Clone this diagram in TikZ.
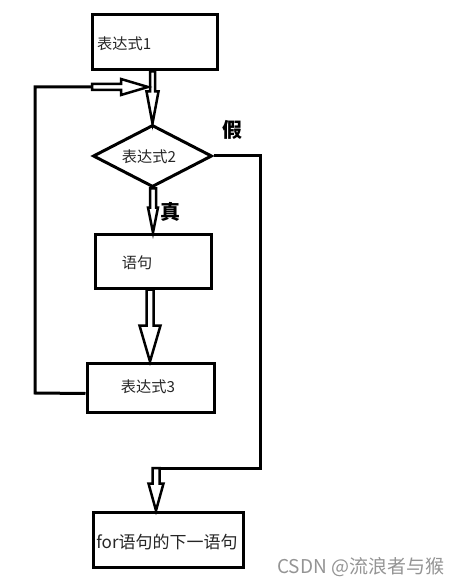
\documentclass[tikz,border=0pt]{standalone}
\usepackage{fontspec}
\setmainfont{Noto Sans CJK SC}
\usetikzlibrary{shapes.geometric,calc}
\tikzset{
  box/.style={draw, line width=3pt, rectangle, inner sep=0pt},
  dia/.style={draw, line width=3pt, diamond, aspect=1.9, inner sep=0pt, minimum width=119pt, minimum height=62pt},
  line/.style={draw, line width=3pt},
  hollow/.style={draw, line width=2.5pt, fill=white, line join=miter},
  txt/.style={font=\fontsize{15.2}{17}\selectfont, text=black!85, inner sep=0pt},
  bigtxt/.style={font=\fontsize{17}{19}\selectfont, text=black!85, inner sep=0pt},
  lbl/.style={font=\fontsize{20}{22}\selectfont\bfseries, inner sep=0pt},
  wmark/.style={font=\fontsize{19}{21}\selectfont, text=black!42, inner sep=0pt}
}
% downward hollow arrow: start, tip, shaft half width, head half width, head length
\newcommand\hdown[5]{%
  \draw[hollow] let \p1=#1, \p2=#2 in
    (\x2-#3pt,\y1) -- (\x2-#3pt,\y2+#5pt) -- (\x2-#4pt,\y2+#5pt) -- (\p2)
    -- (\x2+#4pt,\y2+#5pt) -- (\x2+#3pt,\y2+#5pt) -- (\x2+#3pt,\y1) -- cycle;}
% rightward hollow arrow
\newcommand\hright[5]{%
  \draw[hollow] let \p1=#1, \p2=#2 in
    (\x1,\y2+#3pt) -- (\x2-#5pt,\y2+#3pt) -- (\x2-#5pt,\y2+#4pt) -- (\p2)
    -- (\x2-#5pt,\y2-#4pt) -- (\x2-#5pt,\y2-#3pt) -- (\x1,\y2-#3pt) -- cycle;}
\begin{document}
\begin{tikzpicture}[x=1pt,y=-1pt]
\useasboundingbox (0,0) rectangle (463,585);
% nodes
\node[box, minimum width=125pt, minimum height=55pt] (b1) at (154.5,42.5) {};
\node[txt, anchor=west] (t1) at (97,44) {表达式1};
\node[dia] (d) at (152.5,156) {};
\node[txt] (t2) at (149,157) {表达式2};
\node[box, minimum width=116pt, minimum height=54pt] (b2) at (153,261) {};
\node[txt] (t3) at (137,263) {语句};
\node[box, minimum width=127pt, minimum height=49pt] (b3) at (150.5,387.5) {};
\node[txt] (t4) at (148,387) {表达式3};
\node[box, minimum width=150pt, minimum height=55pt] (b4) at (168,539.5) {};
\node[bigtxt] (t5) at (167,542) {for语句的下一语句};
\node[lbl] (jia) at (232,130) {假};
\node[lbl] (zhen) at (170,212) {真};
\node[wmark, anchor=west] (wm) at (277,567) {CSDN @流浪者与猴};
% loop back line
\coordinate (lp) at ([yshift=-6pt]b3.west);
\coordinate (c1) at (35,393);
\coordinate (c2) at (35,87);
\coordinate (ra) at (92,87);
\coordinate (rt) at (148,87);
\draw[line] (lp) -- (c1) -- (c2) -- (ra);
% false branch line
\coordinate (f1) at (260,156);
\coordinate (f2) at (260,468);
\coordinate (f3) at (156,468);
\draw[line] (d.east) -- (f1) -- (f2) -- (f3);
% hollow arrows
\hdown{(b1.south)}{(d.north)}{2.5}{6}{32}
\hright{(ra)}{(rt)}{3}{8}{27}
\hdown{(d.south)}{(b2.north)}{3}{5}{25}
\hdown{(b2.south)}{([xshift=-0.5pt]b3.north)}{3.5}{10.5}{36}
\hdown{(f3)}{([xshift=-12pt]b4.north)}{3.5}{7.5}{27}
\end{tikzpicture}
\end{document}
